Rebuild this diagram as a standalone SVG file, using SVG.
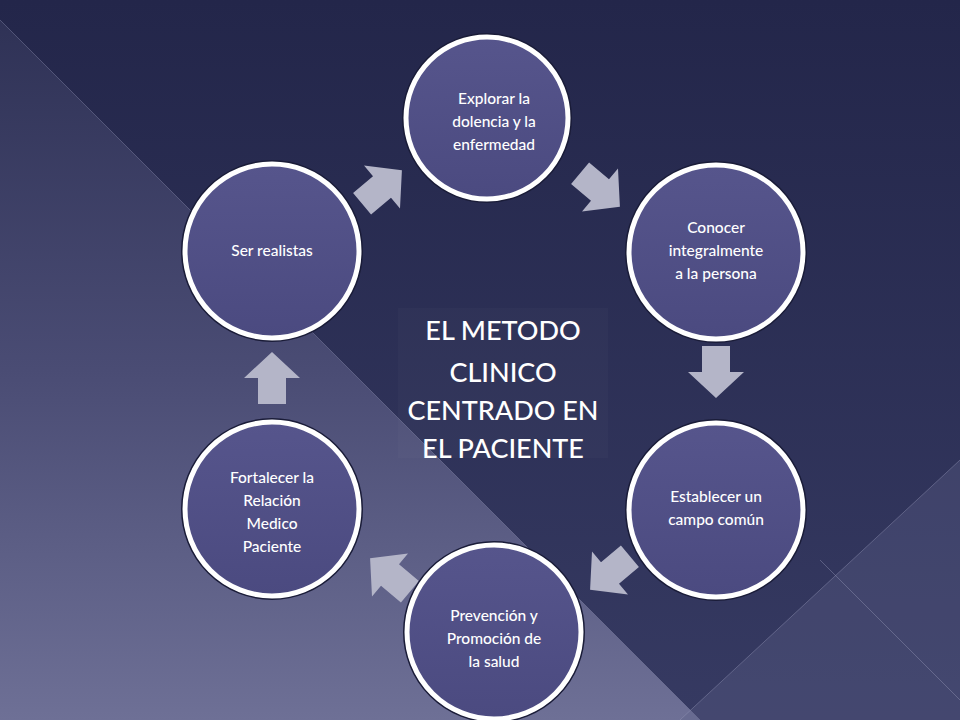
<svg xmlns="http://www.w3.org/2000/svg" width="960" height="720" viewBox="0 0 960 720">
<defs>
<linearGradient id="bg" x1="0" y1="0" x2="0" y2="1"><stop offset="0" stop-color="#23264a"/><stop offset="1" stop-color="#363a62"/></linearGradient>
<linearGradient id="pn" x1="0" y1="0" x2="0" y2="1"><stop offset="0" stop-color="#2f3256"/><stop offset="0.5" stop-color="#4a4c74"/><stop offset="1" stop-color="#6e7096"/></linearGradient>
<linearGradient id="cf" x1="0" y1="0" x2="0" y2="1"><stop offset="0" stop-color="#56558c"/><stop offset="1" stop-color="#4b4a80"/></linearGradient>
<path id="arr" d="M-26,-14 L0,-14 L0,-28 L26,0 L0,28 L0,14 L-26,14 Z"/>
</defs>
<style>
.n{fill:url(#cf);stroke:#fff;stroke-width:5}
.o{fill:none;stroke:#1a1c38;stroke-width:2}
.t{font-family:Lato,"Open Sans",sans-serif;font-size:15.5px;font-weight:500;fill:#fff;text-anchor:middle}
.ttl{font-family:Lato,"Open Sans",sans-serif;font-size:27px;font-weight:500;fill:#fff;text-anchor:middle}
.a{fill:#b4b5c8}
</style>
<rect width="960" height="720" fill="url(#bg)"/>
<polygon points="0,20 700,720 0,720" fill="url(#pn)"/>
<line x1="0" y1="20" x2="700" y2="720" stroke="#8c8eb0" stroke-width="1" opacity="0.4"/>
<polygon points="960,460 680,720 960,720" fill="#5f628a" opacity="0.35"/>
<line x1="960" y1="460" x2="680" y2="720" stroke="#9a9cbc" stroke-width="1" opacity="0.4"/>
<line x1="820" y1="560" x2="960" y2="700" stroke="#9a9cbc" stroke-width="1" opacity="0.4"/>
<rect x="398" y="308" width="210" height="150" fill="#ffffff" opacity="0.02"/>
<g id="connectors">
<use href="#arr" class="a" transform="translate(382,187) rotate(-40)"/>
<use href="#arr" class="a" transform="translate(600,190) rotate(40)"/>
<use href="#arr" class="a" transform="translate(716,372) rotate(90)"/>
<use href="#arr" class="a" transform="translate(610,573) rotate(140)"/>
<use href="#arr" class="a" transform="translate(390,575) rotate(220)"/>
<use href="#arr" class="a" transform="translate(272,378) rotate(-90)"/>
</g>
<g id="n1"><circle cx="487" cy="118" r="84" class="o"/><circle cx="487" cy="118" r="81" class="n"/>
<text class="t" x="494" y="104">Explorar la</text><text class="t" x="494" y="127">dolencia y la</text><text class="t" x="494" y="150">enfermedad</text></g>
<g id="n2"><circle cx="716" cy="252" r="90" class="o"/><circle cx="716" cy="252" r="87" class="n"/>
<text class="t" x="716" y="233">Conocer</text><text class="t" x="716" y="256">integralmente</text><text class="t" x="716" y="279">a la persona</text></g>
<g id="n3"><circle cx="716" cy="510" r="90" class="o"/><circle cx="716" cy="510" r="87" class="n"/>
<text class="t" x="716" y="502">Establecer un</text><text class="t" x="716" y="525">campo común</text></g>
<g id="n4"><circle cx="494" cy="632" r="90" class="o"/><circle cx="494" cy="632" r="87" class="n"/>
<text class="t" x="494" y="621">Prevención y</text><text class="t" x="494" y="644">Promoción de</text><text class="t" x="494" y="667">la salud</text></g>
<g id="n5"><circle cx="272" cy="509" r="90" class="o"/><circle cx="272" cy="509" r="87" class="n"/>
<text class="t" x="272" y="483">Fortalecer la</text><text class="t" x="272" y="506">Relación</text><text class="t" x="272" y="529">Medico</text><text class="t" x="272" y="552">Paciente</text></g>
<g id="n6"><circle cx="272" cy="251" r="90" class="o"/><circle cx="272" cy="251" r="87" class="n"/>
<text class="t" x="272" y="256">Ser realistas</text></g>
<g id="title">
<text class="ttl" x="503" y="340">EL METODO</text><text class="ttl" x="503" y="382">CLINICO</text><text class="ttl" x="503" y="420">CENTRADO EN</text><text class="ttl" x="503" y="458">EL PACIENTE</text></g>
</svg>
